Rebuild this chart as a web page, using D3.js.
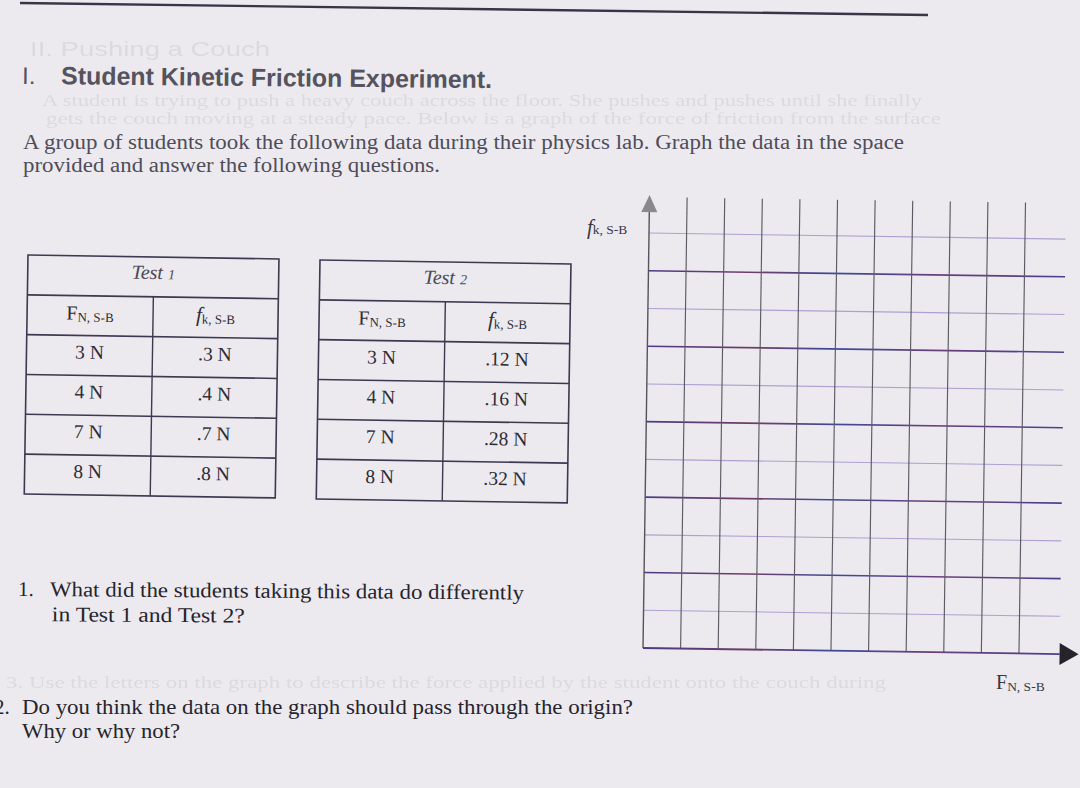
<!DOCTYPE html>
<html lang="en">
<meta charset="utf-8">
<title>Student Kinetic Friction Experiment</title>
<style>
  body { margin: 0; background: #eceaef; overflow: hidden; }
  svg { display: block; }
  .serif { font-family: "Liberation Serif", "Times New Roman", serif; }
  .sans { font-family: "Liberation Sans", Arial, sans-serif; }
</style>
<body>
<div id="page"></div>
<script src="https://cdn.jsdelivr.net/npm/d3@7"></script>
<script>
// Data from the two lab tables
var normalForce = [3, 4, 7, 8];
var test1Friction = [0.3, 0.4, 0.7, 0.8];
var test2Friction = [0.12, 0.16, 0.28, 0.32];
var testNames = ["1", "2"];

// Empty graph grid: 10 column steps, 11 row steps
var gridCols = d3.range(0, 11);
var gridRows = d3.range(0, 12);

var W = 1080, H = 788;
var svg = d3.select("#page").append("svg").attr("width", W).attr("height", H);
svg.append("rect").attr("width", W).attr("height", H).attr("fill", "#eceaef");

function fmtN(v) { return String(v).replace(/^0\./, ".") + " N"; }

var defs = svg.append("defs");
defs.append("filter").attr("id", "soft")
  .append("feGaussianBlur").attr("stdDeviation", 0.7);

// Faint show-through from the other side of the page
var ghost = svg.append("g").attr("class", "serif").attr("fill", "#dcd9df").attr("filter", "url(#soft)");
ghost.append("text").attr("class", "sans").attr("x", 30).attr("y", 56)
  .attr("font-size", 21).attr("textLength", 240).attr("lengthAdjust", "spacingAndGlyphs")
  .text("II.  Pushing a Couch");
ghost.append("text").attr("x", 42).attr("y", 106).attr("font-size", 17)
  .attr("textLength", 880).attr("lengthAdjust", "spacingAndGlyphs")
  .text("A student is trying to push a heavy couch across the floor. She pushes and pushes until she finally");
ghost.append("text").attr("x", 46).attr("y", 124).attr("font-size", 17)
  .attr("textLength", 895).attr("lengthAdjust", "spacingAndGlyphs")
  .text("gets the couch moving at a steady pace. Below is a graph of the force of friction from the surface");
ghost.append("text").attr("x", 6).attr("y", 688).attr("font-size", 17)
  .attr("textLength", 880).attr("lengthAdjust", "spacingAndGlyphs")
  .text("3.  Use the letters on the graph to describe the force applied by the student onto the couch during");

// Top rule
svg.append("line").attr("x1", 20).attr("y1", 3).attr("x2", 928).attr("y2", 15)
  .attr("stroke", "#3a3448").attr("stroke-width", 2.4);

// Title and intro text
var title = svg.append("g").attr("transform", "translate(22,84) rotate(0.5)")
  .attr("class", "sans").attr("fill", "#55535e").attr("font-weight", "bold");
title.append("text").attr("x", 0).attr("y", 0).attr("font-size", 24).attr("font-weight", "normal").text("I.");
title.append("text").attr("x", 39).attr("y", 0).attr("font-size", 25)
  .attr("textLength", 431).attr("lengthAdjust", "spacingAndGlyphs")
  .text("Student Kinetic Friction Experiment.");

var intro = svg.append("g").attr("class", "serif").attr("fill", "#4f4d5a").attr("font-size", 20.5);
intro.append("text").attr("x", 23).attr("y", 149)
  .attr("textLength", 881).attr("lengthAdjust", "spacingAndGlyphs")
  .text("A group of students took the following data during their physics lab. Graph the data in the space");
intro.append("text").attr("x", 23).attr("y", 172)
  .attr("textLength", 417).attr("lengthAdjust", "spacingAndGlyphs")
  .text("provided and answer the following questions.");

// Tables
var tableW = 251, colSplit = 126;
var rowY = d3.scaleLinear().domain([0, 6]).range([0, 239]);

function drawTable(x, y, name, fk) {
  var g = svg.append("g").attr("transform", "translate(" + x + "," + y + ") rotate(0.9)")
    .attr("class", "serif");
  var lineColor = "#3e3850";
  g.append("rect").attr("x", 0).attr("y", 0).attr("width", tableW).attr("height", rowY(6))
    .attr("fill", "none").attr("stroke", lineColor).attr("stroke-width", 1.6);
  g.selectAll("line.row").data(d3.range(1, 6)).join("line").attr("class", "row")
    .attr("x1", 0).attr("x2", tableW)
    .attr("y1", function(d) { return rowY(d); }).attr("y2", function(d) { return rowY(d); })
    .attr("stroke", lineColor).attr("stroke-width", 1.6);
  g.append("line").attr("x1", colSplit).attr("x2", colSplit)
    .attr("y1", rowY(1)).attr("y2", rowY(6))
    .attr("stroke", lineColor).attr("stroke-width", 1.4);

  var c1 = colSplit / 2, c2 = (colSplit + tableW) / 2;
  var t = g.append("text").attr("x", tableW / 2).attr("y", rowY(0) + 22)
    .attr("text-anchor", "middle").attr("font-style", "italic").attr("fill", "#4a4852");
  t.append("tspan").attr("font-size", 20).text("Test ");
  t.append("tspan").attr("font-size", 14).text(name);

  var h1 = g.append("text").attr("x", c1).attr("y", rowY(1) + 24)
    .attr("text-anchor", "middle").attr("fill", "#2e2c36");
  h1.append("tspan").attr("font-size", 20).text("F");
  h1.append("tspan").attr("font-size", 13).attr("dy", 2).text("N, S-B");
  var h2 = g.append("text").attr("x", c2).attr("y", rowY(1) + 24)
    .attr("text-anchor", "middle").attr("fill", "#2e2c36");
  h2.append("tspan").attr("font-size", 21).attr("font-style", "italic").text("f");
  h2.append("tspan").attr("font-size", 13).attr("dy", 2).text("k, S-B");

  g.selectAll("text.fn").data(normalForce).join("text").attr("class", "fn")
    .attr("x", c1).attr("y", function(d, i) { return rowY(i + 2) + 23; })
    .attr("text-anchor", "middle").attr("font-size", 19.5).attr("fill", "#2e2c36")
    .text(fmtN);
  g.selectAll("text.fk").data(fk).join("text").attr("class", "fk")
    .attr("x", c2).attr("y", function(d, i) { return rowY(i + 2) + 23; })
    .attr("text-anchor", "middle").attr("font-size", 19.5).attr("fill", "#2e2c36")
    .text(fmtN);
}
drawTable(28, 255, testNames[0], test1Friction);
drawTable(320, 260, testNames[1], test2Friction);

// Questions
var q = svg.append("g").attr("class", "serif").attr("fill", "#26242c").attr("font-size", 21);
var q1 = q.append("g").attr("transform", "translate(18,596) rotate(0.4)");
q1.append("text").attr("x", 0).attr("y", 0).text("1.");
q1.append("text").attr("x", 32).attr("y", 0).attr("textLength", 474).attr("lengthAdjust", "spacingAndGlyphs")
  .text("What did the students taking this data do differently");
q1.append("text").attr("x", 34).attr("y", 25).attr("textLength", 193).attr("lengthAdjust", "spacingAndGlyphs")
  .text("in Test 1 and Test 2?");
var q2 = q.append("g").attr("transform", "translate(-6,714)");
q2.append("text").attr("x", 0).attr("y", 0).text("2.");
q2.append("text").attr("x", 28).attr("y", 0).attr("textLength", 611).attr("lengthAdjust", "spacingAndGlyphs")
  .text("Do you think the data on the graph should pass through the origin?");
q2.append("text").attr("x", 28).attr("y", 24).attr("textLength", 158).attr("lengthAdjust", "spacingAndGlyphs")
  .text("Why or why not?");

// Graph grid, anchored at its origin
var grid = svg.append("g").attr("transform", "translate(643,648) rotate(0.83)");
var gx = d3.scaleLinear().domain([0, 10]).range([0, 376]);
var gy = d3.scaleLinear().domain([0, 11]).range([0, -415]);
var lineEnd = gx(11.08);
var vTop = gy(11) - 36;

var grad = defs.append("linearGradient").attr("id", "darkLine")
  .attr("gradientUnits", "userSpaceOnUse").attr("x1", 0).attr("x2", lineEnd).attr("y1", 0).attr("y2", 0);
[["0", "#4d3a86"], ["0.25", "#6f3d66"], ["0.45", "#3d4a9a"], ["0.7", "#6a3f7a"], ["1", "#4a3f90"]]
  .forEach(function(s) { grad.append("stop").attr("offset", s[0]).attr("stop-color", s[1]); });

grid.selectAll("line.h").data(gridRows.filter(function(d) { return d > 0; })).join("line").attr("class", "h")
  .attr("x1", 0).attr("x2", lineEnd)
  .attr("y1", function(d) { return gy(d); }).attr("y2", function(d) { return gy(d); })
  .attr("stroke", function(d) { return d % 2 === 0 ? "url(#darkLine)" : "#aea0d0"; })
  .attr("stroke-width", function(d) { return d % 2 === 0 ? 1.6 : 1.1; });

grid.selectAll("line.v").data(gridCols.filter(function(d) { return d > 0; })).join("line").attr("class", "v")
  .attr("x1", function(d) { return gx(d); }).attr("x2", function(d) { return gx(d); })
  .attr("y1", vTop).attr("y2", 0)
  .attr("stroke", "#5c5a64").attr("stroke-width", 1.15);

// Axes
grid.append("line").attr("x1", gx(0)).attr("x2", gx(0)).attr("y1", vTop + 14).attr("y2", 0)
  .attr("stroke", "#55535c").attr("stroke-width", 1.4);
grid.append("line").attr("x1", 0).attr("x2", lineEnd).attr("y1", 0).attr("y2", 0)
  .attr("stroke", "url(#darkLine)").attr("stroke-width", 1.8);
grid.append("path")
  .attr("d", "M" + (gx(0) - 8) + "," + (vTop + 15) + "L" + gx(0) + "," + (vTop - 2) + "L" + (gx(0) + 8) + "," + (vTop + 15) + "Z")
  .attr("fill", "#8a888f");
grid.append("path")
  .attr("d", "M" + lineEnd + ",-11L" + (lineEnd + 19) + ",0L" + lineEnd + ",11Z")
  .attr("fill", "#25232b");

// Axis labels
var yl = svg.append("text").attr("class", "serif").attr("x", 587).attr("y", 234).attr("fill", "#3a3842");
yl.append("tspan").attr("font-size", 21).attr("font-style", "italic").text("f");
yl.append("tspan").attr("font-size", 13.5).text("k, S-B");
var xl = svg.append("text").attr("class", "serif").attr("x", 996).attr("y", 689).attr("fill", "#3a3842");
xl.append("tspan").attr("font-size", 20).text("F");
xl.append("tspan").attr("font-size", 13.5).attr("dy", 2).text("N, S-B");
</script>
</body>
</html>
